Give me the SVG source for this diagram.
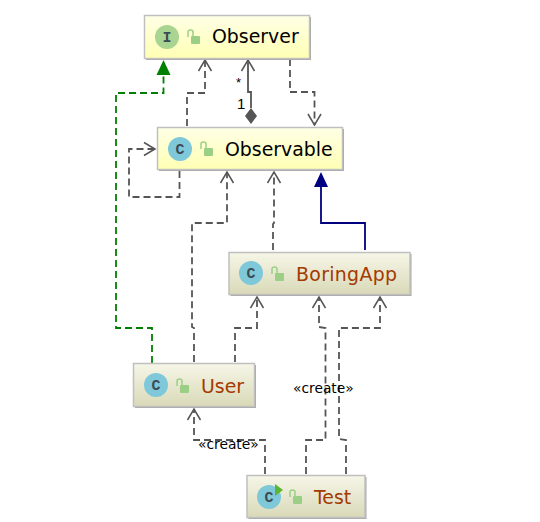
<svg xmlns="http://www.w3.org/2000/svg" width="540" height="522" viewBox="0 0 540 522">
<style>
.box{stroke:#c0c0c0;stroke-width:1.5}
.sh{fill:#a8a8a8}
.name{font:18.9px "DejaVu Sans","Liberation Sans",sans-serif}
.lbl{font:13.800px "DejaVu Sans","Liberation Sans",sans-serif;fill:#000}
.c{fill:none;stroke:#555;stroke-width:1.800}
.d{stroke-dasharray:7 4}
.ah{fill:none;stroke:#555;stroke-width:1.500}
.letter{font:bold 15px "Liberation Mono",monospace;fill:#3c4a52;text-anchor:middle}
.lock{fill:#9ccf86}
.lk{fill:none;stroke:#9ccf86;stroke-width:1.5}
</style>
<defs>
<linearGradient id="y" x1="0" y1="0" x2="0" y2="1"><stop offset="0" stop-color="#ffffe6"/><stop offset="1" stop-color="#ffffb4"/></linearGradient>
<linearGradient id="b" x1="0" y1="0" x2="0" y2="1"><stop offset="0" stop-color="#f6f6e8"/><stop offset="1" stop-color="#d9d9b8"/></linearGradient>
<g id="lockI"><rect x="4" y="7" width="9" height="8" rx="1" class="lock"/><path d="M1 8V3Q1 1 3.500 1T6 3V7" class="lk"/></g>
</defs>
<rect width="540" height="522" fill="#fff"/>
<g id="connectors">
<path d="M152 363V328H116V93H163.500V74" fill="none" stroke="#008000" stroke-width="1.800" stroke-dasharray="7 4"/>
<polygon points="163.500,60 156.500,75 170.500,75" fill="#008000"/>
<path class="c d" d="M187 126V93H205V60"/><path class="ah" d="M198.500 71L205 60L211.500 71"/>
<path class="c" d="M248 60V92H251V108"/><path class="ah" d="M241.500 71L248 60L254.500 71"/>
<polygon points="251,108 257,116 251,124 245,116" fill="#555"/>
<path class="c d" d="M290 59V92H314.500V125"/><path class="ah" d="M308 114L314.500 125L321 114"/>
<path class="c d" d="M179.500 171V197H129V149H155"/><path class="ah" d="M144 142.500L155 149L144 155.500"/>
<path class="c d" d="M194 362V328L192 327V223H227V172"/><path class="ah" d="M220.500 183L227 172L233.500 183"/>
<path class="c d" d="M273 250V224L274 223V172"/><path class="ah" d="M267.500 183L274 172L280.500 183"/>
<path d="M365 250V223H321V186" fill="none" stroke="#000080" stroke-width="1.800"/>
<polygon points="321,172 314,187 328,187" fill="#000080"/>
<path class="c d" d="M235 362V328H257V297"/><path class="ah" d="M250.500 308L257 297L263.500 308"/>
<path class="c d" d="M306 474V440H325.500V328L319 327V297"/><path class="ah" d="M312.500 308L319 297L325.500 308"/>
<path class="c d" d="M346 474V440L339 439V328H380V297"/><path class="ah" d="M373.500 308L380 297L386.500 308"/>
<path class="c d" d="M265 474V440H194V409"/><path class="ah" d="M187.500 420L194 409L200.500 420"/>
</g>
<g id="labels">
<text x="236" y="87" style="font:13px 'Liberation Sans',sans-serif">*</text>
<text x="237" y="109" style="font:15px 'Liberation Sans',sans-serif">1</text>
<text class="lbl" x="293" y="393">«create»</text>
<text class="lbl" x="198" y="449">«create»</text>
</g>
<g id="Observer">
<rect class="sh" x="146" y="17" width="165" height="43"/>
<rect class="box" x="144.500" y="15.500" width="165" height="43" fill="url(#y)"/>
<circle cx="167" cy="37" r="12" fill="#a9d491"/>
<text class="letter" x="167" y="42">I</text>
<use href="#lockI" x="187" y="29"/>
<text class="name" x="212" y="43" fill="#000">Observer</text>
</g>
<g id="Observable">
<rect class="sh" x="159" y="129" width="185" height="42"/>
<rect class="box" x="157.500" y="127.500" width="185" height="42" fill="url(#y)"/>
<circle cx="180" cy="149" r="12" fill="#7ec8da"/>
<text class="letter" x="180" y="154">C</text>
<use href="#lockI" x="200" y="141"/>
<text class="name" x="225" y="156" fill="#000">Observable</text>
</g>
<g id="BoringApp">
<rect class="sh" x="230.500" y="254" width="181" height="42"/>
<rect class="box" x="229" y="252.500" width="181" height="42" fill="url(#b)"/>
<circle cx="251" cy="273" r="12" fill="#7ec8da"/>
<text class="letter" x="251" y="278">C</text>
<use href="#lockI" x="271" y="266"/>
<text class="name" x="296" y="281" fill="#a33a00" textLength="101">BoringApp</text>
</g>
<g id="User">
<rect class="sh" x="135" y="365" width="121" height="43"/>
<rect class="box" x="133.500" y="363.500" width="121" height="43" fill="url(#b)"/>
<circle cx="156" cy="385" r="12" fill="#7ec8da"/>
<text class="letter" x="156" y="390">C</text>
<use href="#lockI" x="176" y="378"/>
<text class="name" x="201" y="393" fill="#a33a00">User</text>
</g>
<g id="Test">
<rect class="sh" x="248.500" y="477" width="118" height="42"/>
<rect class="box" x="247" y="475.500" width="118" height="42" fill="url(#b)"/>
<circle cx="269" cy="497" r="12" fill="#7ec8da"/>
<text class="letter" x="269" y="502">C</text>
<polygon points="275,484 283,490 275,496" fill="#5cb531"/>
<use href="#lockI" x="289" y="489"/>
<text class="name" x="314" y="504" fill="#a33a00">Test</text>
</g>
</svg>
